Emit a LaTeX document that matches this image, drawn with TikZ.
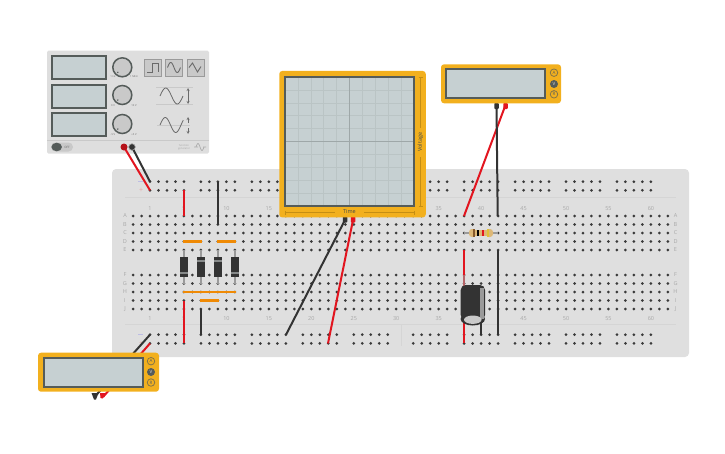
\documentclass[tikz,border=0pt]{standalone}
\usepackage{fontspec}
\setmainfont{Open Sans}
\definecolor{board}{HTML}{DFDFDF}
\definecolor{boardline}{HTML}{D5D5D5}
\definecolor{hole}{HTML}{3A3A3A}
\definecolor{lbl}{HTML}{A8A8A8}
\definecolor{amber}{HTML}{F2B01E}
\definecolor{amberdk}{HTML}{C48E14}
\definecolor{screen}{HTML}{C6D0D2}
\definecolor{bezel}{HTML}{555C5A}
\definecolor{wred}{HTML}{E2151F}
\definecolor{wblack}{HTML}{333333}
\definecolor{worange}{HTML}{EF8A05}
\definecolor{lead}{HTML}{9A9A9A}
\definecolor{panel}{HTML}{DEDEDE}
\definecolor{panelk}{HTML}{C9C9C9}
\definecolor{icon}{HTML}{6A6A6A}
\definecolor{restan}{HTML}{DDB877}
\tikzset{
  x=1pt,y=-1pt,
  redwire/.style={draw=wred,line width=2pt},
  blackwire/.style={draw=wblack,line width=2pt},
  orangewire/.style={draw=worange,line width=2.2pt},
  leadwire/.style={draw=lead,line width=1.8pt},
  lab/.style={text=lbl,font=\fontsize{5.5}{5.5}\selectfont,inner sep=0pt},
  meter/.style={fill=amber,rounded corners=3pt,minimum width=#1,inner sep=0pt,minimum height=39pt},
  lcd/.style={fill=screen,draw=bezel,line width=2pt,inner sep=0pt},
  mbtn/.style={circle,draw=bezel!70!amber,fill=amber,line width=.8pt,minimum size=7.5pt,inner sep=0pt,text=bezel,font=\fontsize{4.5}{4.5}\selectfont},
  mbtnon/.style={circle,fill=bezel,minimum size=8pt,inner sep=0pt,text=white!80!bezel,font=\fontsize{4.5}{4.5}\selectfont},
  knob/.style={circle,draw=bezel,fill=panelk,line width=1.5pt,minimum size=19pt,inner sep=0pt},
  wavebtn/.style={fill=panelk,draw=lead,line width=.7pt,minimum size=17pt,inner sep=0pt},
  iconline/.style={draw=icon,line width=.7pt},
  guide/.style={draw=panelk,line width=.7pt},
  tiny/.style={text=icon,font=\fontsize{2.6}{2.6}\selectfont,inner sep=0pt},
  diode/.style={fill=wblack,minimum width=8pt,minimum height=20pt,inner sep=0pt},
  probe/.style={fill=#1,minimum width=4.5pt,minimum height=6pt,inner sep=0pt,rounded corners=.8pt},
}
\begin{document}
\begin{tikzpicture}
\useasboundingbox (0,0) rectangle (725,453);
% board
\node[fill=board,rounded corners=4pt,minimum width=577pt,minimum height=188pt,inner sep=0pt] (board) at (400.5,263) {};
\draw[boardline,line width=.6pt] (125,197) -- (676,197);
\draw[boardline,line width=.6pt] (125,324) -- (676,324);
\draw[boardline,line width=.6pt] (401,325) -- (401,346);
% main holes
\foreach \y in {216,224.5,233,241.5,250,275,283.5,292,300.5,309}
  \foreach \c in {-1,...,62}{
    \pgfmathsetmacro{\xx}{150+(\c-1)*8.49}
    \fill[hole] (\xx,\y) circle[radius=1.5pt];
  }
% rail holes
\foreach \y in {181.7,190.3,334.7,343.4}
  \foreach \s in {1,7,13,19,25,32,38,44,50,56}
    \foreach \k in {0,...,4}{
      \pgfmathsetmacro{\xx}{150+(\s+\k-1)*8.49}
      \fill[hole] (\xx,\y) circle[radius=1.5pt];
    }
% labels (top 20, 25, 30 lie under the oscilloscope)
\foreach \n in {1,5,10,15,35,40,45,50,55,60}{
  \pgfmathsetmacro{\xx}{150+(\n-1)*8.49}
  \node[lab] (ct\n) at (\xx,208.5) {\n};
}
\foreach \n in {1,5,10,15,20,25,30,35,40,45,50,55,60}{
  \pgfmathsetmacro{\xx}{150+(\n-1)*8.49}
  \node[lab] (cb\n) at (\xx,318.5) {\n};
}
\foreach \t/\y in {A/216,B/224.5,C/233,D/241.5,E/250,F/275,G/283.5,H/292,I/300.5,J/309}{
  \node[lab] (l\t) at (125,\y) {\t};
  \node[lab] (r\t) at (675.5,\y) {\t};
}
\draw[blue!15!board,line width=.8pt] (138,181.5) -- (143,181.5);
\node[text=red!25!board,font=\fontsize{7}{7}\selectfont,inner sep=0pt] (plus1) at (141,190) {+};
\draw[blue!15!board,line width=.8pt] (138,334.5) -- (143,334.5);
\node[text=red!25!board,font=\fontsize{7}{7}\selectfont,inner sep=0pt] (plus2) at (141,343) {+};
% wire ends
\coordinate (a1) at (150,181.7);
\coordinate (a2) at (150,190.3);
\coordinate (b1) at (184,190.3);
\coordinate (b2) at (184,216);
\coordinate (c1) at (218,181.7);
\coordinate (c2) at (218,224.5);
\coordinate (d1) at (184,300.5);
\coordinate (d2) at (184,343.4);
\coordinate (e1) at (201,309);
\coordinate (e2) at (201,334.7);
\coordinate (f1) at (286,334.7);
\coordinate (f2) at (328,343.4);
\coordinate (g1) at (464,216);
\coordinate (g2) at (497.7,216);
\coordinate (h1) at (464,250);
\coordinate (h2) at (464,343.4);
\coordinate (i1) at (497.7,250);
\coordinate (i2) at (497.7,334.7);
\coordinate (j1) at (150,334.7);
\coordinate (j2) at (150,343.4);
\coordinate (k1) at (94.5,397);
\coordinate (k2) at (103,397);
\coordinate (fgr) at (124,147);
\coordinate (fgb) at (132,147);
\coordinate (scb) at (345,220);
\coordinate (scr) at (353,220);
\coordinate (mtb) at (496.5,105);
\coordinate (mtr) at (505.5,105);
% wires
\draw[redwire] (b1) -- (b2);
\draw[blackwire] (c1) -- (c2);
\draw[redwire] (d1) -- (d2);
\draw[blackwire] (e1) -- (e2);
\draw[blackwire] (scb) -- (f1);
\draw[redwire] (scr) -- (f2);
\draw[redwire] (mtr) -- (g1);
\draw[blackwire] (mtb) -- (g2);
\draw[redwire] (h1) -- (h2);
\draw[blackwire] (i1) -- (i2);
\draw[blackwire] (k1) -- (j1);
\draw[redwire] (k2) -- (j2);
\draw[orangewire] (183,241.5) -- (202,241.5);
\draw[orangewire] (217,241.5) -- (236,241.5);
\draw[orangewire] (183,292) -- (236,292);
\draw[orangewire] (200,300.5) -- (219,300.5);
% diodes
\foreach \n/\x/\b in {1/184/272.7,2/201/261,3/218/261,4/235/272.7}{
  \draw[leadwire] (\x,250) -- (\x,283.5);
  \node[diode] (dio\n) at (\x,267) {};
  \fill[icon!70!screen] (\x-4,\b-.8) rectangle (\x+4,\b+.8);
}
% resistor
\draw[leadwire] (464,233) -- (497.7,233);
\fill[rounded corners=3pt,restan] (469,229) rectangle (476,237);
\fill[restan] (474,230) rectangle (488,236);
\fill[rounded corners=3pt,restan] (486,229) rectangle (493,237);
\fill[brown!70!black] (473,229.3) rectangle (475,236.7);
\fill[black] (477,230) rectangle (479,236);
\fill[wred] (481.5,230) rectangle (483.5,236);
\fill[yellow!50!brown] (487,229.3) rectangle (489,236.7);
% capacitor
\draw[leadwire,opacity=.6] (464,275) -- (464,287);
\draw[blackwire,line width=1.6pt] (481,322) -- (481,334.7);
\fill[wblack,rounded corners=5pt] (460.7,285) rectangle (485,320);
\fill[wblack] (472.8,319) ellipse[x radius=12.2pt,y radius=6.5pt];
\fill[lead] (479.8,288) rectangle (484.4,319);
\fill[panelk] (472.8,319.7) ellipse[x radius=8.8pt,y radius=4.2pt];
% function generator
\node[fill=panel,rounded corners=1.5pt,minimum width=162pt,minimum height=103pt,inner sep=0pt] (fg) at (128,102.2) {};
\draw[panelk,line width=.6pt] (47,140) -- (209,140);
\node[lcd,minimum width=54pt,minimum height=23pt] (fs1) at (79,67.5) {};
\node[lcd,minimum width=54pt,minimum height=23pt] (fs2) at (79,96.5) {};
\node[lcd,minimum width=54pt,minimum height=23pt] (fs3) at (79,124.5) {};
\foreach \n/\y in {1/67.3,2/95,3/124}{
  \node[knob] (kn\n) at (122.3,\y) {};
  \fill[bezel] (117.8,\y+5) circle[radius=.8pt];
}
\node[tiny] (k1l) at (113,77) {1 Hz};
\node[tiny] (k1r) at (134,77) {1 MHz};
\node[tiny] (k2l) at (113,106) {0 V};
\node[tiny] (k2r) at (134,106) {10 V};
\node[tiny] (k3l) at (113,135) {-5 V};
\node[tiny] (k3r) at (134,135) {+5 V};
\node[wavebtn] (wb1) at (152.5,67.5) {};
\node[wavebtn] (wb2) at (174,67.5) {};
\node[wavebtn] (wb3) at (195.5,67.5) {};
\draw[iconline,line width=.9pt] (147,72) -- (152.5,72) -- (152.5,63) -- (158,63) -- (158,72);
\draw[iconline,line width=.9pt] plot[domain=0:360,samples=30] ({167.5+\x/360*13},{67.5-5*sin(\x)});
\draw[iconline,line width=.9pt] (189,67.5) -- (192.5,63) -- (197.5,72) -- (201,66.5);
\draw[guide] (156,87.3) -- (193,87.3);
\draw[guide] (156,104.3) -- (193,104.3);
\draw[iconline,line width=.8pt] plot[domain=0:360,samples=40] ({160+\x/360*23},{96-8*sin(\x)});
\draw[iconline,<->,>=stealth,line width=.4pt] (188,88) -- (188,104);
\draw[guide] (157,125) -- (190,125);
\draw[iconline,line width=.8pt] plot[domain=0:400,samples=40] ({160+\x/360*21},{125-7.5*sin(\x)});
\draw[iconline,->,>=stealth,line width=.4pt] (188,123) -- (188,117);
\draw[iconline,->,>=stealth,line width=.4pt] (188,128) -- (188,134);
\node[fill=panelk,rounded corners=4.5pt,minimum width=22pt,minimum height=9pt,inner sep=0pt] (tog) at (62,147) {};
\fill[bezel] (56.7,147) ellipse[x radius=5.3pt,y radius=4.3pt];
\node[tiny,font=\fontsize{3}{3}\selectfont] (off) at (67,147) {OFF};
\node[tiny,text=lbl,align=center,font=\fontsize{2.6}{3}\selectfont] (fgname) at (184,147.5) {function\\generator};
\draw[panelk!85!black,line width=.7pt] (194,147) -- (198,147) plot[domain=0:360,samples=20] ({196+\x/360*8},{147-3.5*sin(\x)}) (203,147) -- (206,147);
\draw[redwire] (fgr) -- (a2);
\draw[blackwire] (fgb) -- (a1);
\node[circle,fill=wred!80!black,line width=.6pt,minimum size=7pt,inner sep=0pt] (fgrn) at (fgr) {};
\node[circle,fill=wblack,draw=lead,line width=.6pt,minimum size=6.5pt,inner sep=0pt] (fgbn) at (fgb) {};
% oscilloscope
\node[probe=wblack] (spb) at (345,219.5) {};
\node[probe=wred] (spr) at (353,219.5) {};
\node[fill=amber,rounded corners=3pt,minimum width=146.5pt,minimum height=146.5pt,inner sep=0pt] (scope) at (352.5,144.2) {};
\node[fill=screen,minimum width=129pt,minimum height=129pt,inner sep=0pt] (scr) at (349.5,141.5) {};
\foreach \i in {1,2,3,4,6,7,8,9}{
  \draw[black!6!screen,line width=.5pt] (285+\i*12.9,77) -- (285+\i*12.9,206);
  \draw[black!6!screen,line width=.5pt] (285,77+\i*12.9) -- (414,77+\i*12.9);
}
\draw[black!20!screen,line width=.7pt] (349.5,77) -- (349.5,206);
\draw[black!20!screen,line width=.7pt] (285,141.5) -- (414,141.5);
\draw[bezel,line width=1.8pt] (285,77) rectangle (414,206);
\draw[amberdk,line width=.7pt] (285,212.5) -- (335,212.5);
\draw[amberdk,line width=.7pt] (364,212.5) -- (414,212.5);
\draw[amberdk,line width=.7pt] (420.5,77) -- (420.5,128);
\draw[amberdk,line width=.7pt] (420.5,157) -- (420.5,206);
\draw[amberdk,line width=.7pt] (285,210.5) -- (285,214.5);
\draw[amberdk,line width=.7pt] (414,210.5) -- (414,214.5);
\draw[amberdk,line width=.7pt] (418.5,77) -- (422.5,77);
\draw[amberdk,line width=.7pt] (418.5,206) -- (422.5,206);
\node[text=bezel!80!black,font=\fontsize{5.5}{5.5}\selectfont,inner sep=0pt] (time) at (349.5,212) {Time};
\node[text=bezel!80!black,font=\fontsize{5.5}{5.5}\selectfont,inner sep=0pt,rotate=90] (volt) at (420.5,142) {Voltage};
% top multimeter
\node[probe=wblack] (mpb) at (496.5,106) {};
\node[probe=wred] (mpr) at (505.5,106) {};
\node[meter=120pt] (mt) at (501,83.8) {};
\node[lcd,minimum width=99.5pt,minimum height=28.5pt] (mts) at (495.7,83.5) {};
\node[mbtn] (mta) at (554,72.7) {A};
\node[mbtnon] (mtv) at (554,84) {V};
\node[mbtn] (mtr2) at (554,94.3) {R};
% bottom multimeter
\fill[wblack] (91.5,393) -- (98.5,393) -- (96,399.5) -- (94,399.5) -- cycle;
\fill[wred] (100,393) -- (107,393) -- (102.5,398.5) -- (100.5,398) -- cycle;
\node[meter=121pt] (mb) at (98.5,372.2) {};
\node[lcd,minimum width=99pt,minimum height=28.5pt] (mbs) at (93,372.5) {};
\node[mbtn] (mba) at (151,361.2) {A};
\node[mbtnon] (mbv) at (151,372) {V};
\node[mbtn] (mbr) at (151,382.5) {R};
\end{tikzpicture}
\end{document}
